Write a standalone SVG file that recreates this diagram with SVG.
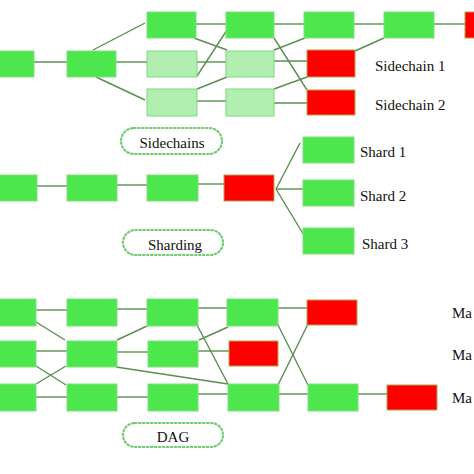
<svg xmlns="http://www.w3.org/2000/svg" width="474" height="474" viewBox="0 0 474 474">
<style>
.g{fill:#4de64d;stroke:#7fe07f;stroke-width:1}
.l{fill:#b0efb0;stroke:#7fd87f;stroke-width:1}
.r{fill:#ff0000;stroke:#b5a24a;stroke-width:1}
.c line{stroke:#5a8f4f;stroke-width:1.4}
.t{font-family:'Liberation Serif','Times New Roman',Times,serif;font-size:15px;fill:#111}
.lab{fill:none;stroke:#72cc72;stroke-width:2.2;stroke-dasharray:1.5 2.5;stroke-linecap:round}
</style>
<rect width="474" height="474" fill="#fff"/>
<g class="c" id="connectors">
<line x1="34" y1="62" x2="67" y2="62"/>
<line x1="116" y1="62" x2="147" y2="62"/>
<line x1="93" y1="50" x2="145" y2="23"/>
<line x1="96" y1="77" x2="145" y2="100"/>
<line x1="196" y1="24" x2="226" y2="24"/>
<line x1="194" y1="38" x2="227" y2="50"/>
<line x1="197" y1="76" x2="227" y2="30"/>
<line x1="197" y1="62" x2="226" y2="62"/>
<line x1="197" y1="101" x2="226" y2="101"/>
<line x1="197" y1="89" x2="227" y2="77"/>
<line x1="274" y1="24" x2="304" y2="24"/>
<line x1="354" y1="24" x2="384" y2="24"/>
<line x1="434" y1="24" x2="465" y2="24"/>
<line x1="274" y1="38" x2="307" y2="90"/>
<line x1="274" y1="61" x2="307" y2="61"/>
<line x1="274" y1="50" x2="305" y2="38"/>
<line x1="355" y1="51" x2="384" y2="38"/>
<line x1="274" y1="89" x2="307" y2="77"/>
<line x1="274" y1="103" x2="307" y2="103"/>
<line x1="37" y1="186" x2="67" y2="186"/>
<line x1="117" y1="185" x2="147" y2="185"/>
<line x1="198" y1="184" x2="224" y2="184"/>
<line x1="276" y1="189" x2="300" y2="143"/>
<line x1="276" y1="189" x2="303" y2="189"/>
<line x1="276" y1="189" x2="305" y2="237"/>
<line x1="36" y1="310" x2="67" y2="310"/>
<line x1="117" y1="309" x2="147" y2="309"/>
<line x1="198" y1="308" x2="227" y2="308"/>
<line x1="278" y1="308" x2="307" y2="308"/>
<line x1="36" y1="322" x2="65" y2="340"/>
<line x1="36" y1="351" x2="67" y2="351"/>
<line x1="117" y1="352" x2="148" y2="352"/>
<line x1="198" y1="351" x2="229" y2="351"/>
<line x1="117" y1="340" x2="147" y2="326"/>
<line x1="36" y1="366" x2="66" y2="385"/>
<line x1="36" y1="384" x2="66" y2="366"/>
<line x1="36" y1="397" x2="67" y2="397"/>
<line x1="117" y1="397" x2="148" y2="397"/>
<line x1="198" y1="394" x2="228" y2="394"/>
<line x1="116" y1="367" x2="228" y2="384"/>
<line x1="197" y1="325" x2="228" y2="384"/>
<line x1="199" y1="340" x2="228" y2="327"/>
<line x1="277" y1="323" x2="308" y2="385"/>
<line x1="278" y1="385" x2="308" y2="324"/>
<line x1="279" y1="394" x2="308" y2="394"/>
<line x1="358" y1="394" x2="387" y2="394"/>
</g>
<g id="sc-r1-1"><rect class="g" x="147" y="12" width="49" height="26"/></g>
<g id="sc-r1-2"><rect class="g" x="226" y="12" width="48" height="26"/></g>
<g id="sc-r1-3"><rect class="g" x="304" y="12" width="50" height="26"/></g>
<g id="sc-r1-4"><rect class="g" x="384" y="12" width="50" height="26"/></g>
<g id="sc-r1-5"><rect class="r" x="465" y="12" width="20" height="26"/></g>
<g id="sc-r2-0"><rect class="g" x="-10" y="51" width="44" height="26"/></g>
<g id="sc-r2-1"><rect class="g" x="67" y="51" width="49" height="26"/></g>
<g id="sc-r2-2"><rect class="l" x="147" y="51" width="50" height="26"/></g>
<g id="sc-r2-3"><rect class="l" x="226" y="51" width="48" height="26"/></g>
<g id="sc-r2-4"><rect class="r" x="307" y="50" width="48" height="27"/></g>
<g id="sc-r3-2"><rect class="l" x="147" y="89" width="50" height="27"/></g>
<g id="sc-r3-3"><rect class="l" x="226" y="89" width="48" height="27"/></g>
<g id="sc-r3-4"><rect class="r" x="307" y="90" width="48" height="25"/></g>
<g id="lbl-sc1"><text class="t" x="375" y="71" font-family="Liberation Serif, serif">Sidechain 1</text></g>
<g id="lbl-sc2"><text class="t" x="375" y="110" font-family="Liberation Serif, serif">Sidechain 2</text></g>
<g id="lbl-sidechains"><rect class="lab" x="121" y="128" width="101" height="26" rx="13"/><text class="t" x="172" y="148" text-anchor="middle" font-family="Liberation Serif, serif">Sidechains</text></g>
<g id="sh-0"><rect class="g" x="-10" y="175" width="47" height="26"/></g>
<g id="sh-1"><rect class="g" x="67" y="175" width="50" height="26"/></g>
<g id="sh-2"><rect class="g" x="147" y="175" width="51" height="26"/></g>
<g id="sh-3"><rect class="r" x="224" y="175" width="50" height="26"/></g>
<g id="shard1"><rect class="g" x="303" y="137" width="51" height="26"/></g>
<g id="shard2"><rect class="g" x="303" y="180" width="51" height="26"/></g>
<g id="shard3"><rect class="g" x="303" y="228" width="51" height="26"/></g>
<g id="lbl-shard1"><text class="t" x="360" y="157" font-family="Liberation Serif, serif">Shard 1</text></g>
<g id="lbl-shard2"><text class="t" x="360" y="201" font-family="Liberation Serif, serif">Shard 2</text></g>
<g id="lbl-shard3"><text class="t" x="362" y="249" font-family="Liberation Serif, serif">Shard 3</text></g>
<g id="lbl-sharding"><rect class="lab" x="123" y="230" width="100" height="25" rx="12.5"/><text class="t" x="175" y="250" text-anchor="middle" font-family="Liberation Serif, serif">Sharding</text></g>
<g id="d-r1-0"><rect class="g" x="-10" y="299" width="46" height="27"/></g>
<g id="d-r1-1"><rect class="g" x="67" y="299" width="50" height="27"/></g>
<g id="d-r1-2"><rect class="g" x="147" y="299" width="51" height="27"/></g>
<g id="d-r1-3"><rect class="g" x="227" y="299" width="51" height="27"/></g>
<g id="d-r1-4"><rect class="r" x="307" y="300" width="50" height="25"/></g>
<g id="d-r2-0"><rect class="g" x="-10" y="341" width="46" height="26"/></g>
<g id="d-r2-1"><rect class="g" x="67" y="341" width="50" height="26"/></g>
<g id="d-r2-2"><rect class="g" x="148" y="341" width="50" height="26"/></g>
<g id="d-r2-3"><rect class="r" x="229" y="341" width="49" height="25"/></g>
<g id="d-r3-0"><rect class="g" x="-10" y="384" width="46" height="27"/></g>
<g id="d-r3-1"><rect class="g" x="67" y="384" width="50" height="27"/></g>
<g id="d-r3-2"><rect class="g" x="148" y="384" width="50" height="27"/></g>
<g id="d-r3-3"><rect class="g" x="228" y="384" width="51" height="27"/></g>
<g id="d-r3-4"><rect class="g" x="308" y="384" width="50" height="27"/></g>
<g id="d-r3-5"><rect class="r" x="387" y="385" width="50" height="25"/></g>
<g id="lbl-ma1"><text class="t" x="452" y="318" font-family="Liberation Serif, serif">Ma</text></g>
<g id="lbl-ma2"><text class="t" x="452" y="360" font-family="Liberation Serif, serif">Ma</text></g>
<g id="lbl-ma3"><text class="t" x="452" y="403" font-family="Liberation Serif, serif">Ma</text></g>
<g id="lbl-dag"><rect class="lab" x="123" y="423" width="100" height="24" rx="12"/><text class="t" x="173" y="442" text-anchor="middle" font-family="Liberation Serif, serif">DAG</text></g>
</svg>
